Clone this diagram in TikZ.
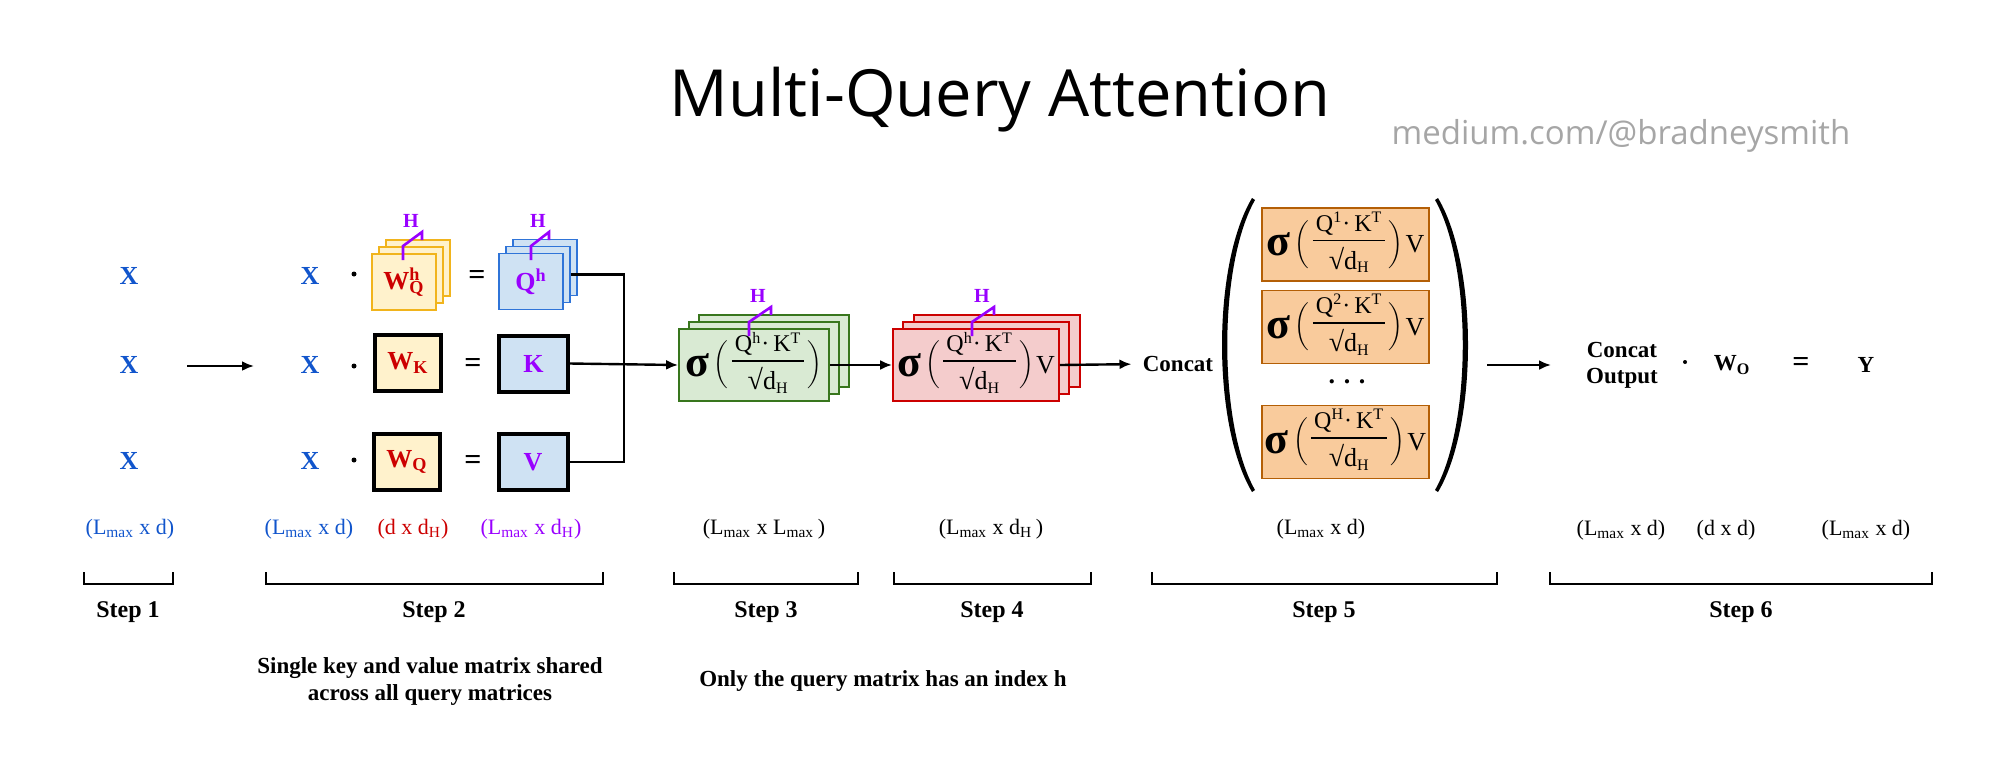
\documentclass[tikz,border=0pt]{standalone}
\usepackage{fontspec}
\setmainfont{Liberation Serif}
\newfontfamily\titlefont{Open Sans}
\usetikzlibrary{arrows.meta}
\definecolor{xblue}{HTML}{1155CC}
\definecolor{wred}{HTML}{CC0000}
\definecolor{qpurp}{HTML}{9900FF}
\definecolor{yfill}{HTML}{FFF2CC}
\definecolor{ydraw}{HTML}{F1B41C}
\definecolor{bfill}{HTML}{CFE2F3}
\definecolor{bdraw}{HTML}{2F74D8}
\definecolor{gfill}{HTML}{D9EAD3}
\definecolor{gdraw}{HTML}{38761D}
\definecolor{rfill}{HTML}{F4CCCC}
\definecolor{rdraw}{HTML}{CC0000}
\definecolor{ofill}{HTML}{F9CB9C}
\definecolor{odraw}{HTML}{B45F06}
\definecolor{wmgray}{HTML}{A6A6A6}
\newcommand\attnV{\mkern2mu\vcenter{\hbox{\fontsize{13}{13}\selectfont V}}}
\newcommand\attnexpr[2]{%
$\vcenter{\hbox{\fontsize{22}{22}\selectfont\bfseries σ}}%
\mkern4mu\bigg(\mkern3mu\vcenter{\hbox{\fontsize{12}{14}\selectfont\setlength\arrayrulewidth{0.8pt}%
\begin{tabular}{@{\hspace{1.5pt}}c@{\hspace{1.5pt}}}Q\textsuperscript{#1}·\,K\textsuperscript{T}\\\hline\rule{0pt}{14pt}{\fontsize{14}{14}\selectfont √}{\fontsize{13}{13}\selectfont d}\textsubscript{H}\end{tabular}}}%
\mkern3mu\bigg)#2$}
\begin{document}
\begin{tikzpicture}[x=0.5pt,y=-0.5pt,
  lbl/.style={inner sep=0pt,font=\fontsize{13}{13}\selectfont\bfseries},
  xlbl/.style={lbl,text=xblue},
  wlbl/.style={lbl,text=wred},
  qlbl/.style={lbl,text=qpurp},
  ystack/.style={draw=ydraw,fill=yfill,line width=0.8pt,minimum width=32pt,minimum height=28pt,inner sep=0pt},
  bstack/.style={draw=bdraw,fill=bfill,line width=0.8pt,minimum width=32pt,minimum height=28pt,inner sep=0pt},
  thickbox/.style={draw=black,line width=2pt,minimum width=33pt,minimum height=28pt,inner sep=0pt},
  wthick/.style={thickbox,fill=yfill},
  bthick/.style={thickbox,fill=bfill,minimum width=34.5pt},
  gstack/.style={draw=gdraw,fill=gfill,line width=0.9pt,minimum width=75pt,minimum height=36pt,inner sep=0pt},
  rstack/.style={draw=rdraw,fill=rfill,line width=0.9pt,minimum width=83pt,minimum height=36pt,inner sep=0pt},
  obox/.style={draw=odraw,fill=ofill,line width=0.9pt,minimum width=83.5pt,minimum height=36.5pt,inner sep=0pt},
  hmark/.style={draw=qpurp,line width=1.3pt},
  hlbl/.style={inner sep=0pt,font=\fontsize{10}{10}\selectfont\bfseries,text=qpurp},
  arr/.style={line width=1.2pt,-{Latex[length=6pt,width=5pt]}},
  conn/.style={line width=1.2pt},
  brk/.style={line width=1.2pt},
  dim/.style={inner sep=0pt,font=\fontsize{11}{11}\selectfont},
  steplbl/.style={inner sep=0pt,font=\fontsize{12}{12}\selectfont\bfseries},
  note/.style={inner sep=0pt,align=center,font=\fontsize{11.5}{13.5}\selectfont\bfseries},
  mdot/.style={circle,fill=black,inner sep=0pt,minimum size=2.5pt},
  eq/.style={inner sep=0pt,font=\fontsize{15}{15}\selectfont\bfseries}]
\useasboundingbox (0,0) rectangle (2000,757);
% title
\node[inner sep=0pt,anchor=base,font=\titlefont\fontsize{32.5}{32.5}\selectfont] (title) at (1000,116) {Multi-Query Attention};
\node[inner sep=0pt,anchor=base,text=wmgray,font=\titlefont\fontsize{16.5}{16.5}\selectfont] (wm) at (1621,144) {medium.com/@bradneysmith};
% step 1
\node[xlbl] (x1a) at (129,276) {X};
\node[xlbl] (x1b) at (129,365) {X};
\node[xlbl] (x1c) at (129,461) {X};
\coordinate (a1s) at (187,366);
\coordinate (a1e) at (254,366);
\draw[arr] (a1s) -- (a1e);
% step 2
\node[xlbl] (x2a) at (310,276) {X};
\node[xlbl] (x2b) at (310,365) {X};
\node[xlbl] (x2c) at (310,461) {X};
\node[mdot] (d2a) at (354,274) {};
\node[mdot] (d2b) at (354,366) {};
\node[mdot] (d2c) at (354,460) {};
\node[ystack] (wq3) at (418,268) {};
\node[ystack] (wq2) at (411,275) {};
\node[ystack,text=wred,font=\fontsize{13}{13}\selectfont\bfseries] (wq1) at (404,282) {W\rlap{\textsuperscript{h}}\textsubscript{Q}};
\node[wthick,text=wred,font=\fontsize{13}{13}\selectfont\bfseries] (wk) at (408,363) {W\textsubscript{K}};
\node[wthick,text=wred,font=\fontsize{13}{13}\selectfont\bfseries] (wv) at (407,462) {W\textsubscript{Q}};
\node[eq] (e2a) at (477,277) {=};
\node[eq] (e2b) at (473,365) {=};
\node[eq] (e2c) at (473,462) {=};
\node[bstack] (qh3) at (545,267.5) {};
\node[bstack] (qh2) at (538,274.5) {};
\node[bstack,text=qpurp,font=\fontsize{13}{13}\selectfont\bfseries] (qh1) at (531,281.5) {Q\textsuperscript{h}};
\node[bthick,text=qpurp,font=\fontsize{13}{13}\selectfont\bfseries] (kb) at (533.5,363.5) {K};
\node[bthick,text=qpurp,font=\fontsize{13}{13}\selectfont\bfseries] (vb) at (533,462) {V};
\draw[hmark] (403,260) -- (403,246) -- (422,232) -- (422,240);
\node[hlbl] (hw) at (411,221) {H};
\draw[hmark] (531,260) -- (531,246) -- (549,232) -- (549,240);
\node[hlbl] (hq) at (538,221) {H};
% connectors of step 2
\coordinate (jt) at (624,274.5);
\coordinate (jb) at (624,462);
\draw[conn] (qh2.east) -- (jt) -- (jb) -- (vb.east);
% step 3
\node[gstack] (g3) at (774,351) {};
\node[gstack] (g2) at (764,358) {};
\node[gstack] (g1) at (754,365) {\attnexpr{h}{}};
\draw[hmark] (749,336) -- (749,322) -- (771,307) -- (771,315);
\node[hlbl] (hg) at (758,296) {H};
\draw[arr] (kb.east) -- (g1.west);
% step 4
\node[rstack] (r3) at (997,351) {};
\node[rstack] (r2) at (986,358) {};
\node[rstack] (r1) at (976,365) {\attnexpr{h}{\attnV}};
\draw[hmark] (972,336) -- (972,322) -- (994,307) -- (994,315);
\node[hlbl] (hr) at (982,296) {H};
\draw[arr] (g1.east) -- (r1.west);
% step 5
\node[inner sep=0pt,font=\fontsize{11.5}{11.5}\selectfont\bfseries] (concat) at (1178,364) {Concat};
\draw[arr,shorten >=5.5pt] (r1.east) -- (concat.west);
\fill (1252,198) .. controls (1212,265) and (1212,425) .. (1252,492) -- (1255,490) .. controls (1218,425) and (1218,265) .. (1255,200) -- cycle;
\fill (1438,198) .. controls (1478,265) and (1478,425) .. (1438,492) -- (1435,490) .. controls (1472,425) and (1472,265) .. (1435,200) -- cycle;
\node[obox] (o1) at (1345.5,244.5) {\attnexpr{1}{\attnV}};
\node[obox] (o2) at (1345.5,327) {\attnexpr{2}{\attnV}};
\node[inner sep=0pt,font=\fontsize{13}{13}\selectfont\bfseries] (odots) at (1347,382) {.\,\,.\,\,.};
\node[obox] (o3) at (1345.5,442) {\attnexpr{H}{\attnV}};
% step 6
\coordinate (a6s) at (1487,365);
\coordinate (a6e) at (1551,365);
\draw[arr] (a6s) -- (a6e);
\node[inner sep=0pt,align=center,font=\fontsize{11.5}{13}\selectfont\bfseries] (cout) at (1622,365) {Concat\\Output};
\node[mdot,minimum size=2pt] (d6) at (1685,362) {};
\node[inner sep=0pt,font=\fontsize{11.5}{11.5}\selectfont\bfseries] (wo) at (1732,365) {W\textsubscript{O}};
\node[eq] (e6) at (1801,364) {=};
\node[inner sep=0pt,font=\fontsize{11.5}{11.5}\selectfont\bfseries] (y) at (1866,365) {Y};
% dimensions
\node[dim,text=xblue] (dm1) at (130,529) {(L\textsubscript{max} x d)};
\node[dim,text=xblue] (dm2a) at (309,529) {(L\textsubscript{max} x d)};
\node[dim,text=wred] (dm2b) at (413,529) {(d x d\textsubscript{H})};
\node[dim,text=qpurp] (dm2c) at (531,529) {(L\textsubscript{max} x d\textsubscript{H})};
\node[dim] (dm3) at (764,529) {(L\textsubscript{max} x L\textsubscript{max}\,)};
\node[dim] (dm4) at (991,529) {(L\textsubscript{max} x d\textsubscript{H}\,)};
\node[dim] (dm5) at (1321,529) {(L\textsubscript{max} x d)};
\node[dim] (dm6a) at (1621,530) {(L\textsubscript{max} x d)};
\node[dim] (dm6b) at (1726,530) {(d x d)};
\node[dim] (dm6c) at (1866,530) {(L\textsubscript{max} x d)};
% brackets
\draw[brk] (84,572) -- (84,584) -- (173,584) -- (173,572);
\draw[brk] (266,572) -- (266,584) -- (603,584) -- (603,572);
\draw[brk] (674,572) -- (674,584) -- (858,584) -- (858,572);
\draw[brk] (894,572) -- (894,584) -- (1091,584) -- (1091,572);
\draw[brk] (1152,572) -- (1152,584) -- (1497,584) -- (1497,572);
\draw[brk] (1550,572) -- (1550,584) -- (1932,584) -- (1932,572);
\node[steplbl] (s1) at (128,612) {Step 1};
\node[steplbl] (s2) at (434,612) {Step 2};
\node[steplbl] (s3) at (766,612) {Step 3};
\node[steplbl] (s4) at (992,612) {Step 4};
\node[steplbl] (s5) at (1324,612) {Step 5};
\node[steplbl] (s6) at (1741,612) {Step 6};
\node[note] (n1) at (430,681) {Single key and value matrix shared\\across all query matrices};
\node[note] (n2) at (883,681) {Only the query matrix has an index h};
\end{tikzpicture}
\end{document}
